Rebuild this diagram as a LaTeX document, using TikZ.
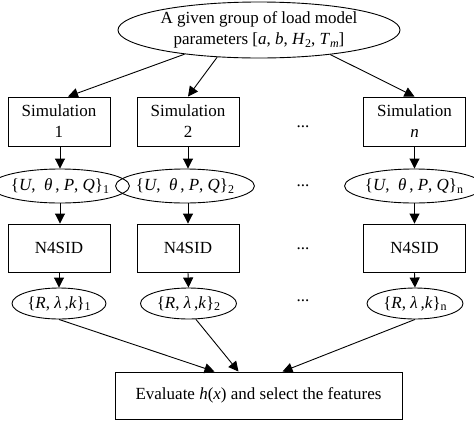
\documentclass[tikz,border=0pt]{standalone}
\usepackage{fontspec}
\setmainfont{Liberation Serif}
\usetikzlibrary{arrows.meta,shapes.geometric}
\newcommand\sbs[1]{\raisebox{-0.35ex}{\fontsize{12}{12}\selectfont #1}}
\begin{document}
\begin{tikzpicture}[x=1pt,y=-1pt,
  font=\fontsize{17}{21}\selectfont,
  stepbox/.style={draw, line width=0.9pt, rectangle, minimum width=102pt, minimum height=49pt, align=center, inner sep=0pt},
  oval/.style={draw, line width=0.9pt, ellipse, inner sep=0pt, align=center},
  arr/.style={-{Triangle[length=10pt,width=10pt]}, line width=0.9pt},
  dots/.style={inner sep=0pt}]
\useasboundingbox (0,0) rectangle (474,421);
\node[oval, minimum width=282pt, minimum height=56pt] (top) at (259,30)
  {A given group of load model\\parameters [\textit{a}, \textit{b}, \textit{H}\sbs{2}, \textit{T}\sbs{\textit{m}}]};
\node[stepbox] (sim1) at (59,121.5) {Simulation\\1};
\node[stepbox] (sim2) at (188,121.5) {Simulation\\2};
\node[stepbox] (simn) at (414.5,121.5) {Simulation\\\textit{n}};
\node[oval, minimum width=114pt, minimum height=34pt] (u1) at (60,186) {\{\textit{U},\ \ \textit{θ}\,, \textit{P}, \textit{Q}\}\sbs{1}};
\node[oval, minimum width=112pt, minimum height=34pt] (u2) at (185,186) {\{\textit{U},\ \ \textit{θ}\,, \textit{P}, \textit{Q}\}\sbs{2}};
\node[oval, minimum width=116pt, minimum height=34pt] (un) at (414,186) {\{\textit{U},\ \ \textit{θ}\,, \textit{P}, \textit{Q}\}\sbs{n}};
\node[stepbox, minimum height=48pt] (n1) at (59,248) {N4SID};
\node[stepbox, minimum height=48pt] (n2) at (188,248) {N4SID};
\node[stepbox, minimum height=48pt] (nn) at (414.5,248) {N4SID};
\node[oval, minimum width=94pt, minimum height=31pt] (r1) at (59,303.5) {\{\textit{R}, \textit{λ}\,,\textit{k}\}\sbs{1}};
\node[oval, minimum width=96pt, minimum height=31pt] (r2) at (188.5,303.5) {\{\textit{R}, \textit{λ}\,,\textit{k}\}\sbs{2}};
\node[oval, minimum width=96pt, minimum height=31pt] (rn) at (415,303.5) {\{\textit{R}, \textit{λ}\,,\textit{k}\}\sbs{n}};
\node[stepbox, minimum width=287pt, minimum height=47pt] (ev) at (258.5,395.5) {Evaluate \textit{h}(\textit{x}) and select the features};
\node[dots] (d1) at (303,127) {...};
\node[dots] (d2) at (303,186) {...};
\node[dots] (d3) at (303,249) {...};
\node[dots] (d4) at (303,301) {...};
\draw[arr] (top.198) -- ([xshift=9pt]sim1.north);
\draw[arr] (top.213) -- (sim2.north);
\draw[arr] (top.-19) -- (simn.north);
\draw[arr] ([xshift=1pt]sim1.south) -- ([xshift=1pt]sim1.south |- u1.north);
\draw[arr] (sim2.south) -- (sim2.south |- u2.north);
\draw[arr] (simn.south) -- (simn.south |- un.north);
\draw[arr] ([xshift=1pt]sim1.south |- u1.south) -- ([xshift=1pt]n1.north);
\draw[arr] (sim2.south |- u2.south) -- (n2.north);
\draw[arr] (simn.south |- un.south) -- (nn.north);
\draw[arr] (n1.south) -- (r1.north);
\draw[arr] (n2.south) -- (r2.north);
\draw[arr] (nn.south) -- (rn.north);
\draw[arr] (r1.south) -- ([xshift=-44pt]ev.north);
\draw[arr] (r2.-65) -- ([xshift=-20pt]ev.north);
\draw[arr] (rn.south) -- ([xshift=24pt]ev.north);
\end{tikzpicture}
\end{document}
